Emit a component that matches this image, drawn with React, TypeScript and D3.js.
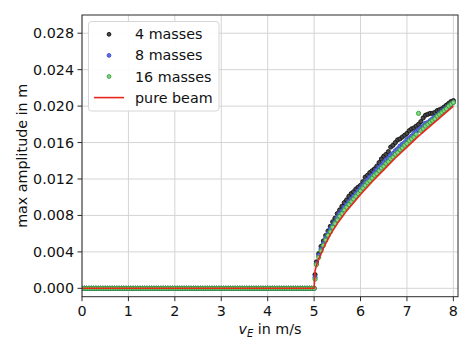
import React from "react";
import * as d3 from "d3";

// Sampled speeds in the rising region (m/s)
const riseSpeeds = [
  5.02, 5.05, 5.1, 5.15, 5.2, 5.25, 5.3, 5.35, 5.4, 5.45, 5.5, 5.55, 5.6, 5.65, 5.7, 5.75,
  5.8, 5.85, 5.9, 5.95, 6.0, 6.05, 6.1, 6.15, 6.2, 6.25, 6.3, 6.35, 6.4, 6.45, 6.5, 6.55,
  6.6, 6.65, 6.7, 6.75, 6.8, 6.85, 6.9, 6.95, 7.0, 7.05, 7.1, 7.15, 7.2, 7.25, 7.3, 7.35,
  7.4, 7.45, 7.5, 7.55, 7.6, 7.65, 7.7, 7.75, 7.8, 7.85, 7.9, 7.95, 8.0,
];

// Speeds in the flat region, where every amplitude is zero
const flatSpeeds = d3.range(0, 5.0001, 0.05);

const masses4 = [
  0.0015, 0.0029, 0.0038, 0.0046, 0.0052, 0.0058, 0.0063, 0.0068, 0.0073, 0.0077, 0.0082, 0.0086,
  0.009, 0.0094, 0.0097, 0.0101, 0.0104, 0.0106, 0.0109, 0.0111, 0.0113, 0.0117, 0.0122, 0.0124,
  0.0127, 0.0129, 0.0131, 0.0134, 0.0138, 0.0142, 0.0145, 0.0147, 0.015, 0.0155, 0.0157, 0.016,
  0.0163, 0.0164, 0.0166, 0.0168, 0.017, 0.0173, 0.0175, 0.0176, 0.0178, 0.018, 0.0183, 0.0187,
  0.019, 0.0191, 0.0192, 0.0192, 0.0193, 0.0195, 0.0196, 0.0197, 0.0199, 0.0201, 0.0203, 0.0205,
  0.0206,
];

const masses8 = [
  0.0012, 0.0027, 0.0036, 0.0043, 0.0049, 0.0055, 0.006, 0.0065, 0.0069, 0.0073, 0.0078, 0.0082,
  0.0085, 0.0089, 0.0092, 0.0095, 0.0098, 0.0101, 0.0104, 0.0107, 0.011, 0.0113, 0.0116, 0.0119,
  0.0122, 0.0124, 0.0127, 0.013, 0.0133, 0.0135, 0.0138, 0.0141, 0.0143, 0.0146, 0.0148, 0.0151,
  0.0153, 0.0156, 0.0158, 0.016, 0.0163, 0.0165, 0.0167, 0.017, 0.0172, 0.0174, 0.0176, 0.0178,
  0.0181, 0.0182, 0.0184, 0.0186, 0.0188, 0.019, 0.0192, 0.0194, 0.0196, 0.0198, 0.02, 0.0202,
  0.0204,
];

const masses16 = [
  0.001, 0.0026, 0.0034, 0.0041, 0.0047, 0.0053, 0.0058, 0.0062, 0.0067, 0.0071, 0.0075, 0.0079,
  0.0082, 0.0086, 0.0089, 0.0092, 0.0095, 0.0098, 0.0101, 0.0104, 0.0107, 0.011, 0.0113, 0.0116,
  0.0118, 0.0121, 0.0124, 0.0126, 0.0129, 0.0132, 0.0134, 0.0137, 0.0139, 0.0142, 0.0144, 0.0147,
  0.0149, 0.0152, 0.0154, 0.0157, 0.0159, 0.0162, 0.0164, 0.0166, 0.0169, 0.0192, 0.0173, 0.0175,
  0.0178, 0.018, 0.0182, 0.0184, 0.0186, 0.0189, 0.0191, 0.0193, 0.0195, 0.0197, 0.02, 0.0202,
  0.0204,
];

const beamSpeeds = [
  0, 5.0, 5.02, 5.05, 5.1, 5.15, 5.2, 5.25, 5.3, 5.35, 5.4, 5.5, 5.6, 5.7, 5.8, 5.9, 6.0, 6.25,
  6.5, 6.75, 7.0, 7.25, 7.5, 7.75, 8.0,
];
const beamAmp = [
  0, 0, 0.0019, 0.0025, 0.0032, 0.0038, 0.0044, 0.0049, 0.0054, 0.0059, 0.0063, 0.0071, 0.0078,
  0.0085, 0.0091, 0.0097, 0.0103, 0.0117, 0.013, 0.0143, 0.0155, 0.0167, 0.0178, 0.0189, 0.02,
];

const xTicks = [0, 1, 2, 3, 4, 5, 6, 7, 8];
const yTicks = [0, 0.004, 0.008, 0.012, 0.016, 0.02, 0.024, 0.028];

const seriesNames = ["4 masses", "8 masses", "16 masses", "pure beam"];

const W = 474;
const H = 355;
const L = 82;
const R = 458;
const T = 15;
const B = 296.7;

const FONT = "DejaVu Sans, sans-serif";
const FS = 14.3;

const styles = [
  { fill: "#4a4a4a", stroke: "#111111" },
  { fill: "#5f6fe6", stroke: "#3b49d0" },
  { fill: "#86d486", stroke: "#2f9e2f" },
];

export default function App() {
  const x = d3.scaleLinear().domain([0, 8.1]).range([L, R]);
  const y = d3.scaleLinear().domain([-0.00092, 0.03]).range([B, T]);

  const series = [masses4, masses8, masses16].map((vals) => [
    ...flatSpeeds.map((s) => ({ v: s, a: 0 })),
    ...riseSpeeds.map((s, i) => ({ v: s, a: vals[i] })),
  ]);

  const line = d3
    .line<number>()
    .x((_, i) => x(beamSpeeds[i]))
    .y((d) => y(d));

  const fmtY = d3.format(".3f");

  return (
    <svg
      width={W}
      height={H}
      style={{ position: "absolute", left: 0, top: 0, background: "#fff" }}
      fontFamily={FONT}
    >
      <defs>
        <clipPath id="plotclip">
          <rect x={L} y={T} width={R - L} height={B - T} />
        </clipPath>
      </defs>
      {/* grid */}
      {xTicks.map((t) => (
        <line key={"gx" + t} x1={x(t)} x2={x(t)} y1={T} y2={B} stroke="#d4d4d4" strokeWidth={1} />
      ))}
      {yTicks.map((t) => (
        <line key={"gy" + t} x1={L} x2={R} y1={y(t)} y2={y(t)} stroke="#d4d4d4" strokeWidth={1} />
      ))}

      <g clipPath="url(#plotclip)">
        {series.map((pts, si) => (
          <g key={"s" + si}>
            {pts.map((p, i) => (
              <circle
                key={i}
                cx={x(p.v)}
                cy={y(p.a)}
                r={2.1}
                fill={styles[si].fill}
                stroke={styles[si].stroke}
                strokeWidth={0.9}
              />
            ))}
          </g>
        ))}
        <path d={line(beamAmp) || ""} fill="none" stroke="#e8261b" strokeWidth={1.6} />
      </g>

      {/* frame */}
      <rect x={L} y={T} width={R - L} height={B - T} fill="none" stroke="#2a2a2a" strokeWidth={1} />

      {/* x ticks */}
      {xTicks.map((t) => (
        <g key={"tx" + t}>
          <line x1={x(t)} x2={x(t)} y1={B} y2={B + 4.5} stroke="#2a2a2a" strokeWidth={1} />
          <text x={x(t)} y={B + 19.5} fontSize={FS} textAnchor="middle" fill="#111">
            {t}
          </text>
        </g>
      ))}
      {/* y ticks */}
      {yTicks.map((t) => (
        <g key={"ty" + t}>
          <line x1={L - 4.5} x2={L} y1={y(t)} y2={y(t)} stroke="#2a2a2a" strokeWidth={1} />
          <text x={L - 8} y={y(t) + 5} fontSize={FS} textAnchor="end" fill="#111">
            {fmtY(t)}
          </text>
        </g>
      ))}

      {/* axis labels */}
      <text x={(L + R) / 2} y={334} fontSize={FS} textAnchor="middle" fill="#111">
        <tspan fontStyle="italic">v</tspan>
        <tspan fontStyle="italic" fontSize={10} dy={3}>E</tspan>
        <tspan dy={-3}> in m/s</tspan>
      </text>
      <text
        transform={`translate(27, ${(T + B) / 2}) rotate(-90)`}
        fontSize={FS}
        textAnchor="middle"
        fill="#111"
      >
        max amplitude in m
      </text>

      {/* legend */}
      <rect x={88.5} y={21.5} width={130.5} height={89.5} rx={3} fill="#fff" fillOpacity={0.92} stroke="#d6d6d6" strokeWidth={1} />
      {seriesNames.map((name, i) => {
        const cy = 34.3 + i * 21.1;
        return (
          <g key={name}>
            {i < 3 ? (
              <circle cx={109} cy={cy} r={1.9} fill={styles[i].fill} stroke={styles[i].stroke} strokeWidth={0.9} />
            ) : (
              <line x1={94} x2={124} y1={cy} y2={cy} stroke="#e8261b" strokeWidth={1.6} />
            )}
            <text x={135} y={cy + 5} fontSize={FS} fill="#111">
              {name}
            </text>
          </g>
        );
      })}
    </svg>
  );
}
